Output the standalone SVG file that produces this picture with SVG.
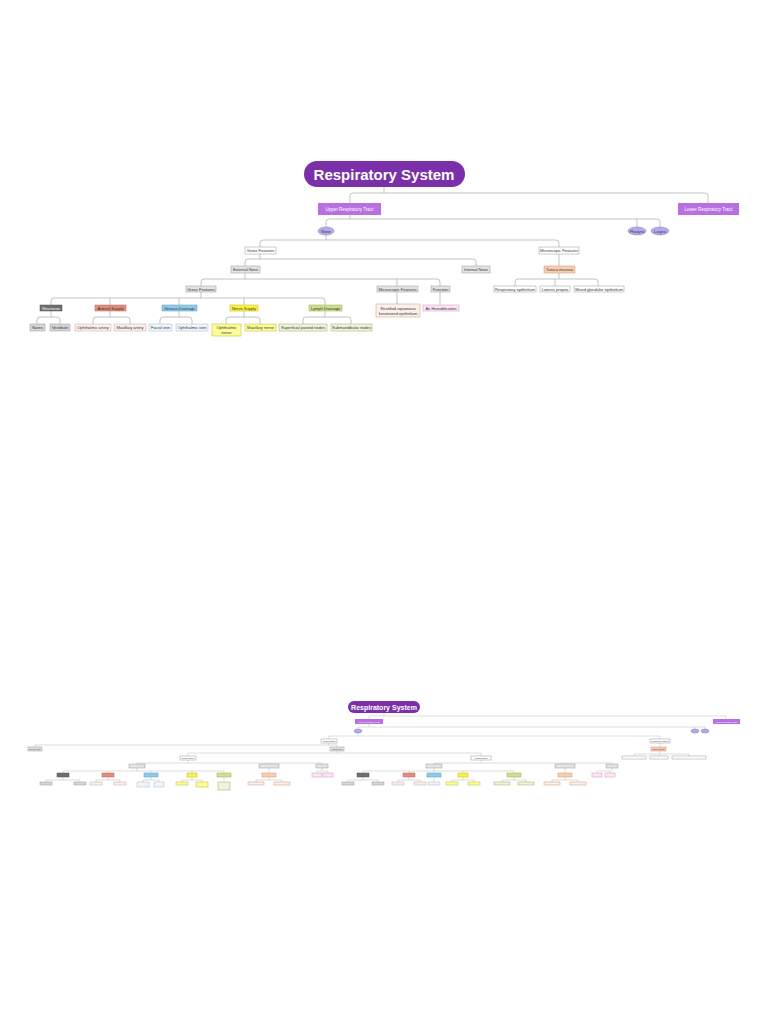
<svg xmlns="http://www.w3.org/2000/svg" width="768" height="1024" viewBox="0 0 768 1024">
<style>
text{font-family:"Liberation Sans",Arial,sans-serif;text-anchor:middle;dominant-baseline:central}
.t{font-size:4px;fill:#333}.tw{font-size:4.5px;fill:#fff}.s{font-size:1.8px;fill:#333}.sw{font-size:2px;fill:#fff}
.c path{fill:none;stroke:#aaa;stroke-width:0.7}
.cs path{fill:none;stroke:#aaa;stroke-width:0.4}
.w{fill:#fff;stroke:#999;stroke-width:0.5}.g{fill:#e4e4e4;stroke:#999;stroke-width:0.5}
.dk{fill:#6e6e6e;stroke:#555;stroke-width:0.5}.lg{fill:#d6d6d6;stroke:#999;stroke-width:0.5}
.rd{fill:#e08f7c;stroke:#b66;stroke-width:0.5}.lr{fill:#fbeeea;stroke:#caa;stroke-width:0.5}
.bl{fill:#8fcbee;stroke:#69a;stroke-width:0.5}.lb{fill:#eef5fb;stroke:#abc;stroke-width:0.5}
.ye{fill:#fcf33a;stroke:#bb3;stroke-width:0.5}.ly{fill:#fdfb9a;stroke:#bb3;stroke-width:0.5}
.gr{fill:#cde08a;stroke:#9a6;stroke-width:0.5}.lgn{fill:#eef4dc;stroke:#9a6;stroke-width:0.5}
.pe{fill:#f8cdb0;stroke:#c97;stroke-width:0.5}.lp{fill:#fbf0ea;stroke:#c97;stroke-width:0.5}
.pk{fill:#fbe6f6;stroke:#c9b;stroke-width:0.5}
.pu{fill:#b86fe0}.ti{fill:#7b2fa8}.el{fill:#b3aaea;stroke:#8880c0;stroke-width:0.5}
</style>
<g class="c">
<path d="M384,187V193M350,203V196Q350,193 353,193H705Q708,193 708,196V203"/>
<path d="M350,215V219M326,227V222Q326,219 329,219H657Q660,219 660,222V227M637,219V227"/>
<path d="M326,235V240M260,247V243Q260,240 263,240H556Q559,240 559,243V247"/>
<path d="M260,254V259M245,266V262Q245,259 248,259H473Q476,259 476,262V266"/>
<path d="M559,254V266M559,273V279M515,286V282Q515,279 518,279H595Q598,279 598,282V286M555,279V286"/>
<path d="M245,273V279M201,286V282Q201,279 204,279H437Q440,279 440,282V286M397,279V286"/>
<path d="M201,292V298M51,305V301Q51,298 54,298H322Q325,298 325,301V305M110,298V305M179,298V305M244,298V305"/>
<path d="M397,292V304M440,292V305"/>
<path d="M51,311V317M37,324V320Q37,317 40,317H57Q60,317 60,320V324"/>
<path d="M110,311V317M93,324V320Q93,317 96,317H127Q130,317 130,320V324"/>
<path d="M179,311V317M160,324V320Q160,317 163,317H189Q192,317 192,320V324"/>
<path d="M244,311V317M226,324V320Q226,317 229,317H257Q260,317 260,320V324"/>
<path d="M325,311V317M303,324V320Q303,317 306,317H348Q351,317 351,320V324"/>
</g>
<g id="title"><rect class="ti" x="304" y="161" width="161" height="26" rx="13"/><text x="384" y="174" style="font-size:15px;font-weight:bold;fill:#fff">Respiratory System</text></g>
<g id="upper"><rect class="pu" x="318" y="203" width="63" height="12"/><text class="tw" x="349.5" y="209">Upper Respiratory Tract</text></g>
<g id="lower"><rect class="pu" x="678" y="203" width="61" height="12"/><text class="tw" x="708.5" y="209">Lower Respiratory Tract</text></g>
<g id="nose"><ellipse class="el" cx="326" cy="231" rx="8" ry="4"/><text class="t" x="326" y="231">Nose</text></g>
<g id="pharynx"><ellipse class="el" cx="637" cy="231" rx="9" ry="4"/><text class="t" x="637" y="231">Pharynx</text></g>
<g id="larynx"><ellipse class="el" cx="660" cy="231" rx="9" ry="4"/><text class="t" x="660" y="231">Larynx</text></g>
<g id="gross1"><rect class="w" x="245" y="247" width="31" height="7"/><text class="t" x="260.5" y="250.5">Gross Features</text></g>
<g id="micro1"><rect class="w" x="539" y="247" width="40" height="7"/><text class="t" x="559" y="250.5">Microscopic Features</text></g>
<g id="extnose"><rect class="g" x="231" y="266" width="29" height="7"/><text class="t" x="245.5" y="269.5">External Nose</text></g>
<g id="intnose"><rect class="g" x="462" y="266" width="28" height="7"/><text class="t" x="476" y="269.5">Internal Nose</text></g>
<g id="tunica"><rect class="pe" x="544" y="266" width="31" height="7"/><text class="t" x="559.5" y="269.5">Tunica mucosa</text></g>
<g id="respepi"><rect class="w" x="494" y="286" width="42" height="6"/><text class="t" x="515" y="289">Respiratory epithelium</text></g>
<g id="lamina"><rect class="w" x="540" y="286" width="30" height="6"/><text class="t" x="555" y="289">Lamina propria</text></g>
<g id="mixed"><rect class="w" x="574" y="286" width="50" height="6"/><text class="t" x="599" y="289">Mixed glandular epithelium</text></g>
<g id="gross2"><rect class="g" x="186" y="286" width="30" height="6"/><text class="t" x="201" y="289">Gross Features</text></g>
<g id="micro2"><rect class="g" x="377" y="286" width="41" height="6"/><text class="t" x="397.5" y="289">Microscopic Features</text></g>
<g id="function"><rect class="g" x="431" y="286" width="19" height="6"/><text class="t" x="440.5" y="289">Function</text></g>
<g id="structures"><rect class="dk" x="40" y="305" width="22" height="6"/><text class="t" x="51" y="308" style="fill:#fff">Structures</text></g>
<g id="arterial"><rect class="rd" x="95" y="305" width="31" height="6"/><text class="t" x="110.5" y="308">Arterial Supply</text></g>
<g id="venous"><rect class="bl" x="162" y="305" width="35" height="6"/><text class="t" x="179.5" y="308">Venous Drainage</text></g>
<g id="nerve"><rect class="ye" x="230" y="305" width="28" height="6"/><text class="t" x="244" y="308">Nerve Supply</text></g>
<g id="lymph"><rect class="gr" x="309" y="305" width="33" height="6"/><text class="t" x="325.5" y="308">Lymph Drainage</text></g>
<g id="strat"><rect class="lp" x="376" y="304" width="44" height="13"/><text class="t" x="398" y="308">Stratified squamous</text><text class="t" x="398" y="313">keratinized epithelium</text></g>
<g id="air"><rect class="pk" x="423" y="305" width="36" height="6"/><text class="t" x="441" y="308">Air Humidification</text></g>
<g id="nares"><rect class="lg" x="30" y="324" width="15" height="7"/><text class="t" x="37.5" y="327.5">Nares</text></g>
<g id="vestibule"><rect class="lg" x="50" y="324" width="20" height="7"/><text class="t" x="60" y="327.5">Vestibule</text></g>
<g id="ophart"><rect class="lr" x="75" y="324" width="36" height="7"/><text class="t" x="93" y="327.5">Ophthalmic artery</text></g>
<g id="maxart"><rect class="lr" x="114" y="324" width="32" height="7"/><text class="t" x="130" y="327.5">Maxillary artery</text></g>
<g id="facvein"><rect class="lb" x="149" y="324" width="23" height="7"/><text class="t" x="160.5" y="327.5">Facial vein</text></g>
<g id="ophvein"><rect class="lb" x="176" y="324" width="32" height="7"/><text class="t" x="192" y="327.5">Ophthalmic vein</text></g>
<g id="ophnerve"><rect class="ly" x="212" y="324" width="29" height="12"/><text class="t" x="226.5" y="327.5">Ophthalmic</text><text class="t" x="226.5" y="332">nerve</text></g>
<g id="maxnerve"><rect class="ly" x="245" y="324" width="31" height="7"/><text class="t" x="260.5" y="327.5">Maxillary nerve</text></g>
<g id="supparotid"><rect class="lgn" x="279" y="324" width="48" height="7"/><text class="t" x="303" y="327.5">Superficial parotid nodes</text></g>
<g id="submand"><rect class="lgn" x="331" y="324" width="41" height="7"/><text class="t" x="351.5" y="327.5">Submandibular nodes</text></g>

<g id="mini">
<g class="cs">
<path d="M384,713V716M369,719V716H726V719M369,724V727M358,729V727H705V729M695,727V729"/>
<path d="M358,733V736M329,739V736H660V739M329,743V745M35,747V745H337V747M660,743V747"/>
<path d="M337,751V753M188,756V753H481V756M660,751V754M634,756V754H689V756M659,754V756"/>
<path d="M188,760V763M137,764V763H322V764M269,763V764M481,760V763M434,764V763H612V764M565,763V764"/>
<path d="M137,768V771M63,773V771H224V773M108,771V773M151,771V773M192,771V773M269,768V773M322,768V771M317,773V771H328V773"/>
<path d="M434,768V771M363,773V771H514V773M409,771V773M434,771V773M463,771V773M565,768V773M612,768V771M597,773V771H610V773"/>
<path d="M63,777V780M46,782V780H80V782M108,777V780M96,782V780H120V782M151,777V780M143,782V780H159V782M192,777V780M182,782V780H202V782M224,777V782M269,777V780M256,782V780H282V782"/>
<path d="M363,777V780M348,782V780H378V782M409,777V780M398,782V780H420V782M434,777V782M463,777V780M452,782V780H474V782M514,777V780M502,782V780H526V782M565,777V780M552,782V780H578V782"/>
</g>
<rect class="ti" x="348" y="701" width="72" height="12" rx="6"/><text x="384" y="707" style="font-size:7px;font-weight:bold;fill:#fff">Respiratory System</text>
<rect class="pu" x="355" y="719" width="28" height="5"/><text class="sw" x="369" y="721.5">Upper Respiratory Tract</text>
<rect class="pu" x="713" y="719" width="27" height="5"/><text class="sw" x="726.5" y="721.5">Lower Respiratory Tract</text>
<ellipse class="el" cx="358" cy="731" rx="4" ry="2"/><ellipse class="el" cx="695" cy="731" rx="4" ry="2"/><ellipse class="el" cx="705" cy="731" rx="4" ry="2"/>
<rect class="w" x="321" y="739" width="16" height="4"/><text class="s" x="329" y="741">Gross Features</text>
<rect class="w" x="650" y="739" width="20" height="4"/><text class="s" x="660" y="741">Microscopic Features</text>
<rect class="g" x="28" y="747" width="14" height="4"/><text class="s" x="35" y="749">External Nose</text>
<rect class="g" x="330" y="747" width="14" height="4"/><text class="s" x="337" y="749">Internal Nose</text>
<rect class="pe" x="651" y="747" width="15" height="4"/><text class="s" x="658.5" y="749">Tunica mucosa</text>
<rect class="w" x="622" y="756" width="24" height="3"/><rect class="w" x="650" y="756" width="18" height="3"/><rect class="w" x="672" y="756" width="34" height="3"/>
<rect class="w" x="180" y="756" width="16" height="4"/><text class="s" x="188" y="758">Gross Features</text>
<rect class="w" x="471" y="756" width="20" height="4"/><text class="s" x="481" y="758">Gross Features</text>
<rect class="g" x="129" y="764" width="16" height="4"/><rect class="g" x="259" y="764" width="20" height="4"/><rect class="g" x="316" y="764" width="12" height="4"/>
<rect class="g" x="426" y="764" width="16" height="4"/><rect class="g" x="555" y="764" width="20" height="4"/><rect class="g" x="606" y="764" width="12" height="4"/>
<rect class="dk" x="57" y="773" width="12" height="4"/><rect class="rd" x="102" y="773" width="12" height="4"/><rect class="bl" x="144" y="773" width="14" height="4"/><rect class="ye" x="187" y="773" width="10" height="4"/><rect class="gr" x="217" y="773" width="14" height="4"/><rect class="pe" x="262" y="773" width="14" height="4"/><rect class="pk" x="312" y="773" width="10" height="4"/><rect class="pk" x="323" y="773" width="10" height="4"/>
<rect class="dk" x="357" y="773" width="12" height="4"/><rect class="rd" x="403" y="773" width="12" height="4"/><rect class="bl" x="427" y="773" width="14" height="4"/><rect class="ye" x="458" y="773" width="10" height="4"/><rect class="gr" x="507" y="773" width="14" height="4"/><rect class="pe" x="558" y="773" width="14" height="4"/><rect class="pk" x="592" y="773" width="10" height="4"/><rect class="pk" x="605" y="773" width="10" height="4"/>
<rect class="lg" x="40" y="782" width="12" height="3"/><rect class="lg" x="74" y="782" width="12" height="3"/><rect class="lr" x="90" y="782" width="12" height="3"/><rect class="lr" x="114" y="782" width="12" height="3"/><rect class="lb" x="137" y="782" width="12" height="5"/><rect class="lb" x="154" y="782" width="10" height="5"/><rect class="ly" x="176" y="782" width="12" height="3"/><rect class="ly" x="196" y="782" width="12" height="5"/><rect class="lgn" x="218" y="782" width="12" height="8"/><rect class="lp" x="248" y="782" width="16" height="3"/><rect class="lp" x="274" y="782" width="16" height="3"/>
<rect class="lg" x="342" y="782" width="12" height="3"/><rect class="lg" x="372" y="782" width="12" height="3"/><rect class="lr" x="392" y="782" width="12" height="3"/><rect class="lr" x="414" y="782" width="12" height="3"/><rect class="lb" x="428" y="782" width="12" height="3"/><rect class="ly" x="446" y="782" width="12" height="3"/><rect class="ly" x="468" y="782" width="12" height="3"/><rect class="lgn" x="494" y="782" width="16" height="3"/><rect class="lgn" x="518" y="782" width="16" height="3"/><rect class="lp" x="544" y="782" width="16" height="3"/><rect class="lp" x="570" y="782" width="16" height="3"/>
</g>
</svg>
